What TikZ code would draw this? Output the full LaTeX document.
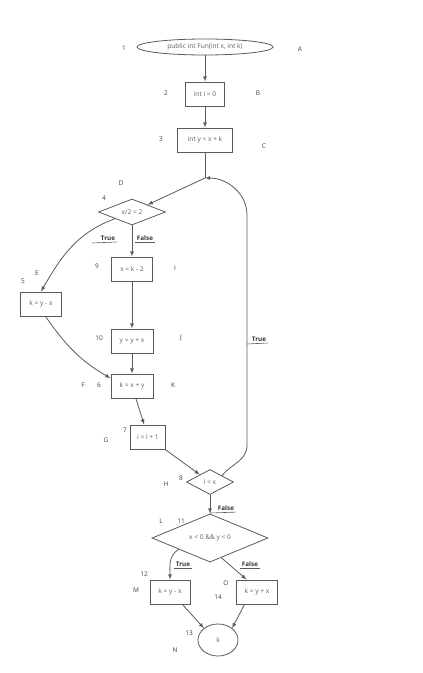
\documentclass[tikz,border=0pt]{standalone}
\usepackage{fontspec}
\setmainfont{Open Sans}
\usetikzlibrary{shapes.geometric, arrows, positioning}
\definecolor{linegray}{HTML}{5A5A5A}
\definecolor{txtgray}{HTML}{5E5E66}
\definecolor{taggray}{HTML}{404048}
\tikzstyle{startstop} = [ellipse, draw=linegray, line width=0.8pt, inner sep=0pt, text=txtgray, font=\fontsize{6.6}{7.5}\selectfont]
\tikzstyle{process} = [rectangle, draw=linegray, line width=1pt, minimum height=24pt, inner xsep=6pt, text=txtgray, font=\fontsize{6.6}{7.5}\selectfont]
\tikzstyle{decision} = [diamond, draw=linegray, line width=0.8pt, inner sep=0pt, text=txtgray, font=\fontsize{6.6}{7.5}\selectfont]
\tikzstyle{tag} = [inner sep=0pt, text=taggray, font=\fontsize{6.5}{7.5}\selectfont]
\tikzstyle{branch} = [inner sep=1.5pt, text=black!80, font=\bfseries\fontsize{6.3}{7}\selectfont]
\tikzstyle{line} = [line width=0.8pt, draw=linegray]
\tikzstyle{arrow} = [line width=0.8pt, draw=linegray, ->, >=latex]

\begin{document}
\begin{tikzpicture}[x=1pt, y=1pt]
        \useasboundingbox (0,0) rectangle (423,-673);
        % Nodes
        \node (fun) [startstop, minimum width=136pt, minimum height=16pt] at (205,-47) {public int Fun(int x, int k)};
        \node (initi) [process, minimum width=39pt] at (205,-94) {int i = 0};
        \node (inity) [process, minimum width=55pt] at (205,-140) {int y = x + k};
        \coordinate (merge) at (205,-178);
        \node (half) [decision, minimum width=67pt, minimum height=26pt] at (132,-212) {x/2 < 2};
        \node (setx) [process, minimum width=41pt] at (132,-269) {x = k - 2};
        \node (kyx) [process, minimum width=41pt] at (41,-304) {k = y - x};
        \node (yyx) [process, minimum width=42pt] at (132,-341) {y = y + x};
        \node (kxy) [process, minimum width=42pt] at (132,-386) {k = x + y};
        \node (inc) [process, minimum width=35pt] at (148,-437) {i = i + 1};
        \node (loop) [decision, minimum width=47pt, minimum height=25pt] at (210,-482) {i < x};
        \node (both) [decision, minimum width=116pt, minimum height=26pt] at (210,-538) {x < 0 \&\& y < 0};
        \node (lastyx) [process, minimum width=40pt] at (170,-592) {k = y - x};
        \node (lastxy) [process, minimum width=41pt] at (257,-592) {k = y + x};
        \node (ret) [startstop, minimum width=40pt, minimum height=32pt] at (218,-640) {k};

        % Numbers and letters
        \node (n1) [tag] at (124,-48) {1};
        \node (lA) [tag] at (300,-49) {A};
        \node (n2) [tag] at (166,-93) {2};
        \node (lB) [tag] at (258,-93) {B};
        \node (n3) [tag] at (161,-139) {3};
        \node (lC) [tag] at (264,-146) {C};
        \node (lD) [tag] at (121,-183) {D};
        \node (n4) [tag] at (104,-198) {4};
        \node (n5) [tag] at (23,-281) {5};
        \node (lE) [tag] at (37,-273) {E};
        \node (n9) [tag] at (97,-266) {9};
        \node (lI) [tag] at (175,-268) {I};
        \node (n10) [tag] at (99,-338) {10};
        \node (lJ) [tag] at (181,-338) {J};
        \node (lF) [tag] at (83,-385) {F};
        \node (n6) [tag] at (99,-385) {6};
        \node (lK) [tag] at (173,-385) {K};
        \node (n7) [tag] at (125,-430) {7};
        \node (lG) [tag] at (106,-440) {G};
        \node (n8) [tag] at (181,-478) {8};
        \node (lH) [tag] at (166,-484) {H};
        \node (lL) [tag] at (161,-521) {L};
        \node (n11) [tag] at (181,-521) {11};
        \node (n12) [tag] at (144,-574) {12};
        \node (lM) [tag] at (136,-590) {M};
        \node (lO) [tag] at (226,-583) {O};
        \node (n14) [tag] at (218,-597) {14};
        \node (n13) [tag] at (189,-633) {13};
        \node (lN) [tag] at (175,-650) {N};

        % Branch labels
        \node (t1) [branch] at (108,-238) {True};
        \node (f1) [branch] at (145,-238) {False};
        \node (t2) [branch] at (259,-339) {True};
        \node (f2) [branch] at (226,-508) {False};
        \node (t3) [branch] at (183,-564) {True};
        \node (f3) [branch] at (250,-564) {False};
        \draw [line, line width=0.6pt] (92,-243) -- (t1.south east);
        \draw [line, line width=0.6pt] (f1.south west) -- (f1.south east);
        \draw [line, line width=0.6pt] (247,-344) -- (t2.south east);
        \draw [line, line width=0.6pt] (210,-513) -- (f2.south east);
        \draw [line, line width=0.6pt] (t3.south west) -- (t3.south east);
        \draw [line, line width=0.6pt] (f3.south west) -- (f3.south east);

        % Connections
        \draw [arrow] (fun) -- (initi);
        \draw [arrow] (initi) -- (inity);
        \draw [line] (inity) -- (merge);
        \draw [arrow] (merge) -- (half);
        \draw [arrow] (half.south west) to[out=200, in=60] (kyx.north);
        \draw [arrow] (half) -- (setx);
        \draw [arrow] (setx) -- (yyx);
        \draw [arrow] (kyx.-70) to[out=-55, in=150] (kxy.160);
        \draw [arrow] (yyx) -- (kxy);
        \draw [arrow] (kxy) -- (inc);
        \draw [arrow] (inc) -- (loop);
        \draw [arrow] (loop.north east) to[out=50, in=-90] (247,-445) -- (247,-215) to[out=90, in=0] (merge); % back to the top
        \draw [arrow] (loop) -- (both);
        \draw [arrow] (both.200) to[out=210, in=90] (lastyx.north);
        \draw [arrow] (both.-60) -- (lastxy.130);
        \draw [arrow] (lastyx.-45) -- (ret.140);
        \draw [arrow] (lastxy.-135) -- (ret.40);
    \end{tikzpicture}
\end{document}
